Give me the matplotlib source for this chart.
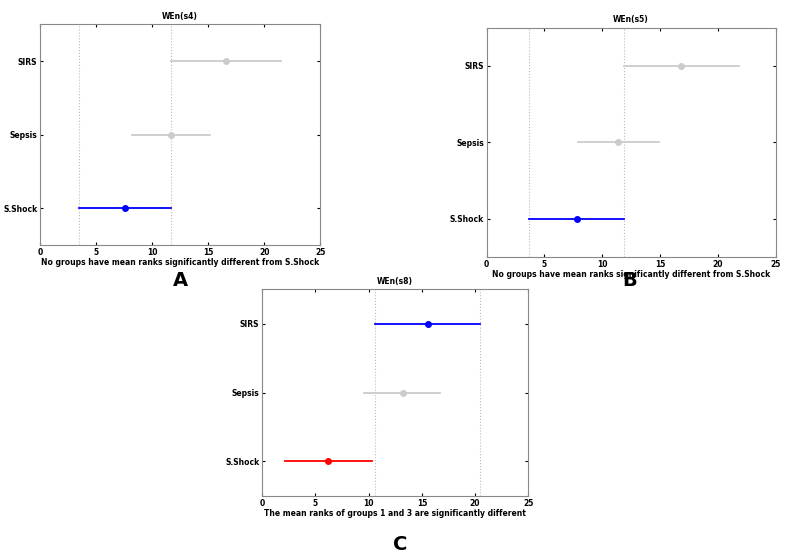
import matplotlib
matplotlib.use("Agg")
import matplotlib.pyplot as plt

groups = ["S.Shock", "Sepsis", "SIRS"]
titles = ["WEn(s4)", "WEn(s5)", "WEn(s8)"]
xlabels = ["No groups have mean ranks significantly different from S.Shock",
           "No groups have mean ranks significantly different from S.Shock",
           "The mean ranks of groups 1 and 3 are significantly different"]
# per panel: centers, lower, upper (order: S.Shock, Sepsis, SIRS)
centers = [[7.6, 11.7, 16.6], [7.8, 11.4, 16.8], [6.2, 13.2, 15.6]]
lowers = [[3.5, 8.2, 11.7], [3.7, 7.9, 11.9], [2.1, 9.6, 10.6]]
uppers = [[11.7, 15.2, 21.5], [11.9, 14.9, 21.8], [10.3, 16.7, 20.5]]
colors = [["blue", "#cccccc", "#cccccc"], ["blue", "#cccccc", "#cccccc"], ["red", "#cccccc", "blue"]]
ref_idx = [0, 0, 2]
letters = ["A", "B", "C"]

fig = plt.figure(figsize=(7.85, 5.56), dpi=100)
rects = [[0.051, 0.559, 0.357, 0.397], [0.620, 0.538, 0.368, 0.412], [0.334, 0.108, 0.339, 0.372]]
letter_pos = [(180, 280), (630, 280), (400, 545)]
for p in range(3):
    ax = fig.add_axes(rects[p])
    r = ref_idx[p]
    for xv in (lowers[p][r], uppers[p][r]):
        ax.axvline(xv, color="#bbbbbb", lw=0.8, ls=":")
    for i in range(3):
        c = colors[p][i]
        ax.plot([lowers[p][i], uppers[p][i]], [i + 1, i + 1], color=c, lw=1.3)
        ax.plot(centers[p][i], i + 1, "o", color=c, ms=4, mfc=c, mec=c)
    ax.set_xlim(0, 25)
    ax.set_ylim(0.5, 3.5)
    ax.set_yticks([1, 2, 3])
    ax.set_yticklabels(groups, fontsize=5.5, fontweight="bold")
    ax.set_xticks([0, 5, 10, 15, 20, 25])
    ax.tick_params(labelsize=5.5, length=2, top=True, right=True, direction="in", pad=2)
    for t in ax.get_xticklabels():
        t.set_fontweight("bold")
    ax.set_title(titles[p], fontsize=5.5, fontweight="bold", pad=4)
    ax.set_xlabel(xlabels[p], fontsize=5.5, fontweight="bold", labelpad=1)
    for s in ax.spines.values():
        s.set_color("#888888")
        s.set_linewidth(0.8)
    fig.text(letter_pos[p][0] / 785, 1 - letter_pos[p][1] / 556, letters[p],
             fontsize=14, fontweight="bold", ha="center", va="center")

fig.savefig("out.png", dpi=100)
